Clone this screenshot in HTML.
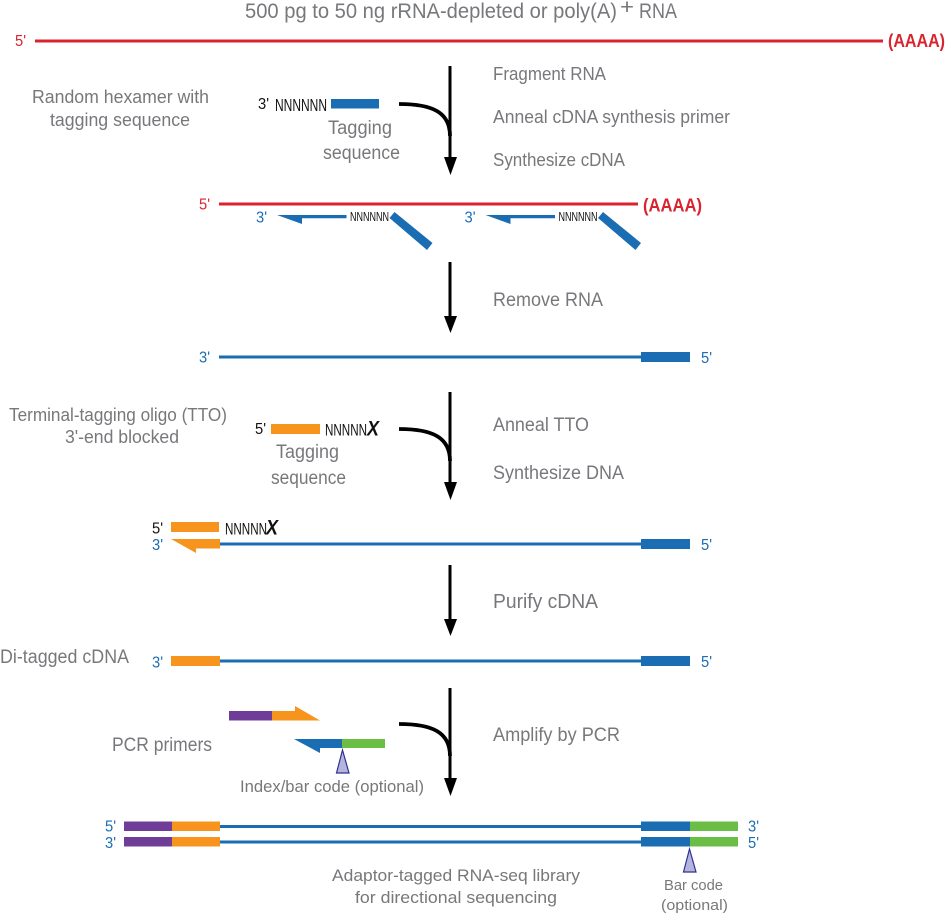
<!DOCTYPE html>
<html>
<head>
<meta charset="utf-8">
<style>
html,body{margin:0;padding:0;background:#fff;width:946px;height:913px;overflow:hidden}
svg{display:block}
text{font-family:"Liberation Sans",sans-serif;fill:#77787b;font-size:18px}
.k{fill:#111}
.b{fill:#1a6db3;font-size:16px}
.r{fill:#d9232e}
.c{fill:none;stroke:#000;stroke-width:3.8}
</style>
</head>
<body>
<svg width="946" height="913" viewBox="0 0 946 913" xmlns="http://www.w3.org/2000/svg">
<!-- title -->
<text x="245" y="18" style="font-size:21px" textLength="372" lengthAdjust="spacingAndGlyphs">500 pg to 50 ng rRNA-depleted or poly(A)</text>
<text x="620" y="14" style="font-size:21px" textLength="14" lengthAdjust="spacingAndGlyphs">+</text>
<text x="639" y="18" style="font-size:21px" textLength="38" lengthAdjust="spacingAndGlyphs">RNA</text>

<!-- row 1 -->
<rect x="35" y="39.5" width="848" height="3" fill="#d9232e"/>
<text class="r" x="15" y="46" style="font-size:16px" textLength="11" lengthAdjust="spacingAndGlyphs">5'</text>
<text class="r" x="888" y="47" style="font-size:18px;font-weight:bold" textLength="57" lengthAdjust="spacingAndGlyphs">(AAAA)</text>

<!-- arrow 1 -->
<rect x="448.5" y="66" width="3" height="95" fill="#000"/>
<polygon points="444,157 457,157 450.5,175" fill="#000"/>
<path class="c" d="M399 104 C432 104 450 112 450 136"/>

<text x="493" y="80" textLength="113" lengthAdjust="spacingAndGlyphs">Fragment RNA</text>
<text x="493" y="123" textLength="237" lengthAdjust="spacingAndGlyphs">Anneal cDNA synthesis primer</text>
<text x="493" y="166" textLength="132" lengthAdjust="spacingAndGlyphs">Synthesize cDNA</text>

<text x="32" y="103" textLength="177" lengthAdjust="spacingAndGlyphs">Random hexamer with</text>
<text x="50" y="126" textLength="140" lengthAdjust="spacingAndGlyphs">tagging sequence</text>

<text class="k" x="258" y="109" style="font-size:16px" textLength="11" lengthAdjust="spacingAndGlyphs">3'</text>
<text class="k" x="275" y="111" style="font-size:17.5px" textLength="52" lengthAdjust="spacingAndGlyphs">NNNNNN</text>
<rect x="331" y="99" width="48" height="9.5" fill="#1a6db3"/>
<text x="328" y="134" style="font-size:19px" textLength="64" lengthAdjust="spacingAndGlyphs">Tagging</text>
<text x="323" y="159" style="font-size:19px" textLength="77" lengthAdjust="spacingAndGlyphs">sequence</text>

<!-- row 2 -->
<rect x="219" y="202.5" width="419" height="3" fill="#d9232e"/>
<text class="r" x="199" y="209.5" style="font-size:16px" textLength="11" lengthAdjust="spacingAndGlyphs">5'</text>
<text class="r" x="643" y="211.5" style="font-size:18px;font-weight:bold" textLength="59" lengthAdjust="spacingAndGlyphs">(AAAA)</text>

<g>
<text class="b" x="256" y="222.5" textLength="11" lengthAdjust="spacingAndGlyphs">3'</text>
<polygon points="277,215 346.5,215 346.5,218.3 302,218.3 302,224" fill="#1a6db3"/>
<text class="k" x="350" y="220.8" style="font-size:12.5px" textLength="39" lengthAdjust="spacingAndGlyphs">NNNNNN</text>
<polygon points="394.5,212 389.5,218 427,250 432.5,243" fill="#1a6db3"/>
</g>
<g transform="translate(208.5,0)">
<text class="b" x="256" y="222.5" textLength="11" lengthAdjust="spacingAndGlyphs">3'</text>
<polygon points="277,215 346.5,215 346.5,218.3 302,218.3 302,224" fill="#1a6db3"/>
<text class="k" x="350" y="220.8" style="font-size:12.5px" textLength="39" lengthAdjust="spacingAndGlyphs">NNNNNN</text>
<polygon points="394.5,212 389.5,218 427,250 432.5,243" fill="#1a6db3"/>
</g>

<!-- arrow 2 -->
<rect x="448.5" y="262" width="3" height="58" fill="#000"/>
<polygon points="444,316 457,316 450.5,333" fill="#000"/>
<text x="493" y="306" style="font-size:19px" textLength="110" lengthAdjust="spacingAndGlyphs">Remove RNA</text>

<!-- row 3 -->
<rect x="219" y="355.5" width="422" height="3" fill="#1a6db3"/>
<rect x="641" y="352" width="49" height="10" fill="#1a6db3"/>
<text class="b" x="199" y="362.5" textLength="11" lengthAdjust="spacingAndGlyphs">3'</text>
<text class="b" x="701" y="363" textLength="11" lengthAdjust="spacingAndGlyphs">5'</text>

<!-- arrow 3 -->
<rect x="448.5" y="392" width="3" height="94" fill="#000"/>
<polygon points="444,482 457,482 450.5,500" fill="#000"/>
<path class="c" d="M399 429 C432 429 450 437 450 461"/>

<text x="9" y="421" textLength="218" lengthAdjust="spacingAndGlyphs">Terminal-tagging oligo (TTO)</text>
<text x="65" y="443" textLength="114" lengthAdjust="spacingAndGlyphs">3'-end blocked</text>

<text class="k" x="255" y="434" style="font-size:16px" textLength="11" lengthAdjust="spacingAndGlyphs">5'</text>
<rect x="271" y="424" width="49" height="10" fill="#f7941e"/>
<text class="k" x="325" y="435.7" style="font-size:17px" textLength="42" lengthAdjust="spacingAndGlyphs">NNNNN</text>
<text class="k" x="367" y="435.7" style="font-size:21px;font-weight:bold;font-style:italic" textLength="12" lengthAdjust="spacingAndGlyphs">X</text>
<text x="276" y="458" style="font-size:19px" textLength="63" lengthAdjust="spacingAndGlyphs">Tagging</text>
<text x="271" y="484" style="font-size:19px" textLength="75" lengthAdjust="spacingAndGlyphs">sequence</text>

<text x="493" y="431" style="font-size:19px" textLength="96" lengthAdjust="spacingAndGlyphs">Anneal TTO</text>
<text x="493" y="479" style="font-size:19px" textLength="131" lengthAdjust="spacingAndGlyphs">Synthesize DNA</text>

<!-- row 4 -->
<text class="k" x="152" y="533.5" style="font-size:16px" textLength="11" lengthAdjust="spacingAndGlyphs">5'</text>
<rect x="171" y="522" width="48" height="10" fill="#f7941e"/>
<text class="k" x="225" y="534.3" style="font-size:17px" textLength="42" lengthAdjust="spacingAndGlyphs">NNNNN</text>
<text class="k" x="266" y="534.3" style="font-size:21px;font-weight:bold;font-style:italic" textLength="12" lengthAdjust="spacingAndGlyphs">X</text>
<text class="b" x="152" y="550" textLength="11" lengthAdjust="spacingAndGlyphs">3'</text>
<polygon points="171,539 220,539 220,548.5 196,548.5 196,553" fill="#f7941e"/>
<rect x="220" y="542.5" width="421" height="3" fill="#1a6db3"/>
<rect x="641" y="539" width="49" height="10" fill="#1a6db3"/>
<text class="b" x="701" y="550" textLength="11" lengthAdjust="spacingAndGlyphs">5'</text>

<!-- arrow 4 -->
<rect x="448.5" y="565" width="3" height="58" fill="#000"/>
<polygon points="444,619 457,619 450.5,636" fill="#000"/>
<text x="493" y="608" style="font-size:20px" textLength="105" lengthAdjust="spacingAndGlyphs">Purify cDNA</text>

<!-- row 5 -->
<text x="0" y="663" style="font-size:19px" textLength="129" lengthAdjust="spacingAndGlyphs">Di-tagged cDNA</text>
<text class="b" x="152" y="667.3" textLength="11" lengthAdjust="spacingAndGlyphs">3'</text>
<rect x="171" y="656" width="49" height="10" fill="#f7941e"/>
<rect x="220" y="659.5" width="421" height="3" fill="#1a6db3"/>
<rect x="641" y="656" width="49" height="10" fill="#1a6db3"/>
<text class="b" x="701" y="667" textLength="11" lengthAdjust="spacingAndGlyphs">5'</text>

<!-- arrow 5 -->
<rect x="448.5" y="688" width="3" height="94" fill="#000"/>
<polygon points="444,778 457,778 450.5,796" fill="#000"/>
<path class="c" d="M399 724 C432 724 450 732 450 756"/>
<text x="493" y="741" style="font-size:19px" textLength="127" lengthAdjust="spacingAndGlyphs">Amplify by PCR</text>

<text x="112" y="751" style="font-size:19px" textLength="100" lengthAdjust="spacingAndGlyphs">PCR primers</text>
<rect x="229" y="711" width="43" height="9.5" fill="#6f3c98"/>
<polygon points="272,711 295,711 295,706 320,720.5 272,720.5" fill="#f7941e"/>
<polygon points="294,739 342,739 342,748 320,748 320,753" fill="#1a6db3"/>
<rect x="342" y="739" width="43" height="9" fill="#6abd45"/>
<polygon points="342.5,750 336.5,773 349,773" fill="#b4b4de" stroke="#2e3192" stroke-width="1.2"/>
<text x="240" y="792" style="font-size:17px" textLength="184" lengthAdjust="spacingAndGlyphs">Index/bar code (optional)</text>

<!-- row 6 -->
<text class="b" x="105" y="831.5" textLength="11" lengthAdjust="spacingAndGlyphs">5'</text>
<rect x="124" y="821.5" width="48" height="9.5" fill="#6f3c98"/>
<rect x="172" y="821.5" width="48" height="9.5" fill="#f7941e"/>
<rect x="220" y="825" width="421" height="3" fill="#1a6db3"/>
<rect x="641" y="821.5" width="49" height="9.5" fill="#1a6db3"/>
<rect x="690" y="821.5" width="48" height="9.5" fill="#6abd45"/>
<text class="b" x="748" y="831.5" textLength="11" lengthAdjust="spacingAndGlyphs">3'</text>

<text class="b" x="105" y="848" textLength="11" lengthAdjust="spacingAndGlyphs">3'</text>
<rect x="124" y="837" width="48" height="9.5" fill="#6f3c98"/>
<rect x="172" y="837" width="48" height="9.5" fill="#f7941e"/>
<rect x="220" y="840.5" width="421" height="3" fill="#1a6db3"/>
<rect x="641" y="837" width="49" height="9.5" fill="#1a6db3"/>
<rect x="690" y="837" width="48" height="9.5" fill="#6abd45"/>
<text class="b" x="748" y="848" textLength="11" lengthAdjust="spacingAndGlyphs">5'</text>

<polygon points="689.5,849 683.5,872 696,872" fill="#b4b4de" stroke="#2e3192" stroke-width="1.2"/>
<text x="332" y="881" style="font-size:17px" textLength="248" lengthAdjust="spacingAndGlyphs">Adaptor-tagged RNA-seq library</text>
<text x="355" y="903" style="font-size:17px" textLength="202" lengthAdjust="spacingAndGlyphs">for directional sequencing</text>
<text x="664" y="890" style="font-size:15px" textLength="59" lengthAdjust="spacingAndGlyphs">Bar code</text>
<text x="661" y="910" style="font-size:15px" textLength="67" lengthAdjust="spacingAndGlyphs">(optional)</text>
</svg>
</body>
</html>
